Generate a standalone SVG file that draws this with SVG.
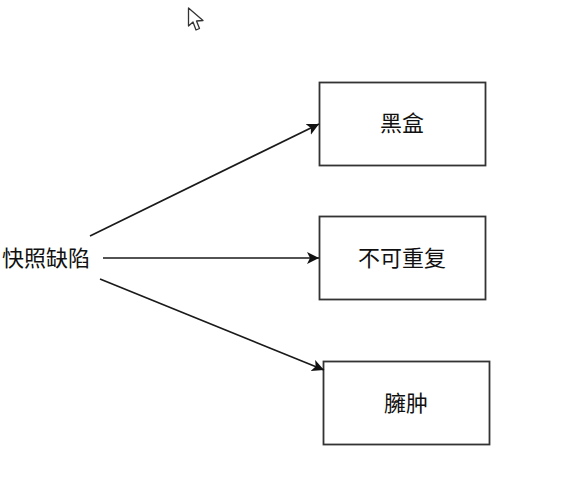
<svg xmlns="http://www.w3.org/2000/svg" width="561" height="481" viewBox="0 0 561 481">
<style>
.box{fill:#fff;stroke:#333;stroke-width:1.8}
.t{font-family:"Noto Sans CJK SC","Liberation Sans",sans-serif;fill:#111;text-anchor:middle}
.c{fill:none;stroke:#1a1a1a;stroke-width:1.7;marker-end:url(#a)}
</style>
<defs><marker id="a" markerUnits="userSpaceOnUse" markerWidth="14" markerHeight="13" refX="12" refY="6.500" orient="auto"><path d="M0 0.500L12 6.500L0 12.500L3 6.500Z" fill="#111"/></marker></defs>
<rect width="561" height="481" fill="#fff"/>
<g id="n1"><rect class="box" x="319.500" y="82.500" width="166" height="83"/><text class="t" x="402" y="131" font-size="22">黑盒</text></g>
<g id="n2"><rect class="box" x="319.500" y="216.500" width="166" height="83"/><text class="t" x="402" y="266" font-size="22">不可重复</text></g>
<g id="n3"><rect class="box" x="323.500" y="361.500" width="166" height="83"/><text class="t" x="406" y="411" font-size="22">臃肿</text></g>
<g id="source"><text class="t" x="46" y="266" font-size="22">快照缺陷</text></g>
<g id="connectors">
<path class="c" d="M90 236L319 124"/>
<path class="c" d="M103 258L319 258"/>
<path class="c" d="M100 279L324 370"/>
</g>
<g id="cursor"><path d="M188.500 8L188.500 26L193 22L196 30L199.500 28.500L196.500 21L203 20.500Z" fill="#fff" stroke="#333" stroke-width="1.300" stroke-linejoin="round"/></g>
</svg>
